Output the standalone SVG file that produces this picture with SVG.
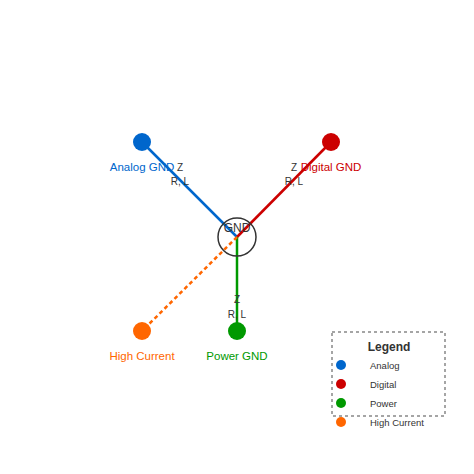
<svg xmlns="http://www.w3.org/2000/svg" width="474" height="474" viewBox="0 0 474 474">
<style>
text{font-family:"Liberation Sans",Arial,sans-serif}
.nl{font-size:11.5px;text-anchor:middle}
.el{font-size:10px;fill:#333;text-anchor:middle}
.lg{font-size:9.5px;fill:#333}
</style>
<rect width="474" height="474" fill="#fff"/>
<g id="connectors" fill="none" stroke-width="2.5">
<line x1="142" y1="142" x2="237" y2="237" stroke="#0066cc"/>
<line x1="331" y1="142" x2="237" y2="237" stroke="#cc0000"/>
<line x1="237" y1="237" x2="237" y2="331" stroke="#009900"/>
<line x1="237" y1="237" x2="142" y2="331" stroke="#ff6600" stroke-dasharray="4,3"/>
<text class="el" x="180" y="171">Z</text>
<text class="el" x="180" y="185">R, L</text>
<text class="el" x="294" y="171">Z</text>
<text class="el" x="294" y="185">R, L</text>
<text class="el" x="237" y="303">Z</text>
<text class="el" x="237" y="318">R, L</text>
</g>
<g id="gnd">
<circle cx="237" cy="237" r="19" fill="none" stroke="#333" stroke-width="1.5"/>
<text x="237" y="232" font-size="12" fill="#333" text-anchor="middle">GND</text>
</g>
<g id="analog">
<circle cx="142" cy="142" r="9" fill="#0066cc"/>
<text class="nl" x="142" y="171" fill="#0066cc">Analog GND</text>
</g>
<g id="digital">
<circle cx="331" cy="142" r="9" fill="#cc0000"/>
<text class="nl" x="331" y="171" fill="#cc0000">Digital GND</text>
</g>
<g id="highcurrent">
<circle cx="142" cy="331" r="9" fill="#ff6600"/>
<text class="nl" x="142" y="360" fill="#ff6600">High Current</text>
</g>
<g id="power">
<circle cx="237" cy="331" r="9" fill="#009900"/>
<text class="nl" x="237" y="360" fill="#009900">Power GND</text>
</g>
<g id="legend">
<rect x="332" y="332" width="113" height="84" fill="none" stroke="#888" stroke-width="1.5" stroke-dasharray="3,3"/>
<text x="389" y="351" font-size="12" font-weight="bold" fill="#333" text-anchor="middle">Legend</text>
<circle cx="341" cy="365" r="5" fill="#0066cc"/>
<text class="lg" x="370" y="369">Analog</text>
<circle cx="341" cy="384" r="5" fill="#cc0000"/>
<text class="lg" x="370" y="388">Digital</text>
<circle cx="341" cy="403" r="5" fill="#009900"/>
<text class="lg" x="370" y="407">Power</text>
<circle cx="341" cy="422" r="5" fill="#ff6600"/>
<text class="lg" x="370" y="426">High Current</text>
</g>
</svg>
